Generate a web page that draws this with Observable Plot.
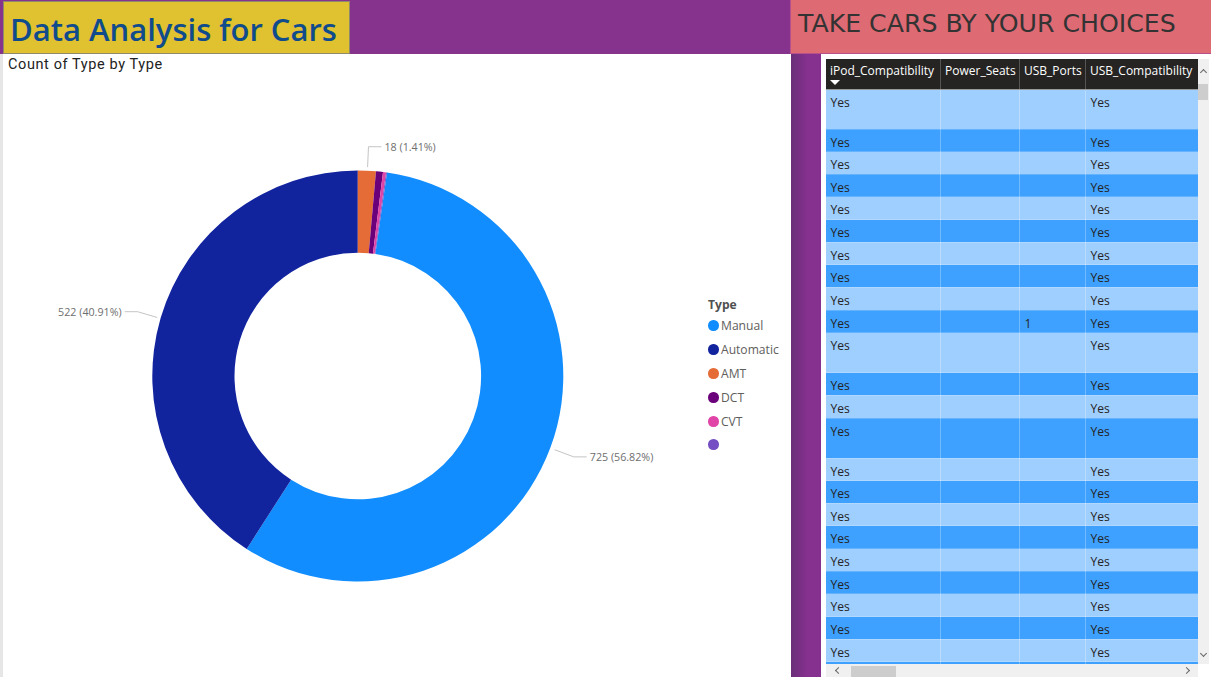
<!DOCTYPE html>
<html>
<head>
<meta charset="utf-8">
<script src="https://cdn.jsdelivr.net/npm/d3@7"></script>
<script src="https://cdn.jsdelivr.net/npm/@observablehq/plot@0.6"></script>
<style>
html,body{margin:0;padding:0;width:1211px;height:677px;overflow:hidden;background:#fff;font-family:"Open Sans",sans-serif}
.abs{position:absolute;box-sizing:border-box}
#stripe{left:0;top:0;width:3px;height:677px;background:#e6e6e6}
#topbar{left:0;top:0;width:791px;height:54px;background:#86338e}
#title{left:3px;top:1px;width:347px;height:53px;background:#e0c12f;border:1px solid #8f8a6a;color:#104c8c;font-weight:600;font-size:31px;line-height:54px;padding-left:6px;white-space:nowrap}
#right{left:790px;top:0;width:421px;height:54px;background:#de6a73;border-left:1px solid #b9508a;border-bottom:1px solid #b9508a;color:#333;font-family:"DejaVu Sans",sans-serif;font-size:25.2px;line-height:48px;padding-left:7px;white-space:nowrap}
#band{left:791px;top:54px;width:30px;height:623px;background:linear-gradient(90deg,#6a2f78,#86308f 55%)}
#chartTitle{left:8px;top:55px;font-family:Roboto,sans-serif;font-size:14.5px;letter-spacing:.6px;line-height:20px;color:#222}
#chart{left:0;top:54px}
#legend{left:708px;top:296px;width:82px;color:#605e5c;font-size:12.1px}
#legend b{display:block;height:18px;line-height:17px;color:#505050;font-weight:700}
#legend div{position:relative;height:24px;line-height:24px;padding-left:13px;white-space:nowrap}
#legend i{position:absolute;left:0;top:6px;width:10.5px;height:10.5px;border-radius:50%}
#tableWrap{left:826px;top:59px;width:372px;height:605px;overflow:hidden}
table{border-collapse:collapse;table-layout:fixed;width:372px;font-size:12.1px;color:#252423}
th{background:#252423;color:#fff;font-weight:400;font-size:12px;text-align:left;vertical-align:top;height:30px;padding:3px 0 0 4px;line-height:17px;border-right:1px solid #555;border-bottom:1px solid #999;box-sizing:border-box;white-space:nowrap;position:relative;overflow:hidden}
td{vertical-align:top;padding:5px 0 0 4.5px;line-height:16px;border-right:1px solid rgba(255,255,255,.28);border-bottom:1px solid rgba(255,255,255,.2);box-sizing:border-box}
#sort{position:absolute;left:4px;top:21px;width:0;height:0;border-left:5px solid transparent;border-right:5px solid transparent;border-top:5px solid #fff}
.sb{background:#f0f0f0}
.thumb{background:#cdcdcd}
.chev{width:5px;height:5px;border-left:1px solid #666;border-top:1px solid #666}
</style>
</head>
<body>
<div class="abs" id="stripe"></div>
<div class="abs" id="topbar"></div>
<div class="abs" id="title">Data Analysis for Cars</div>
<div class="abs" id="right">TAKE CARS BY YOUR CHOICES</div>
<div class="abs" id="band"></div>
<div class="abs" id="chartTitle">Count of Type by Type</div>
<div class="abs" id="chart"></div>
<div class="abs" id="legend"></div>
<div class="abs" id="tableWrap"></div>
<div class="abs sb" style="left:1198px;top:59px;width:11px;height:605px"></div>
<div class="abs thumb" style="left:1198px;top:84px;width:10px;height:16px"></div>
<div class="abs sb" style="left:826px;top:664px;width:372px;height:13px"></div>
<div class="abs thumb" style="left:851px;top:666px;width:45px;height:11px"></div>
<div class="abs chev" style="left:1201px;top:70px;transform:rotate(45deg)"></div>
<div class="abs chev" style="left:1201px;top:651px;transform:rotate(225deg)"></div>
<div class="abs chev" style="left:836px;top:668px;transform:rotate(-45deg)"></div>
<div class="abs chev" style="left:1184px;top:668px;transform:rotate(135deg)"></div>
<script>
// Donut data
const types = ["Manual", "Automatic", "AMT", "DCT", "CVT", ""];
const counts = [725, 522, 18, 7, 3, 1];
const colours = ["#118dff", "#12239e", "#e66c37", "#6b007b", "#e044a7", "#744ec2"];

// Table data
const tableHeaders = ["iPod_Compatibility", "Power_Seats", "USB_Ports", "USB_Compatibility"];
const iPodCompatibility = ["Yes","Yes","Yes","Yes","Yes","Yes","Yes","Yes","Yes","Yes","Yes","Yes","Yes","Yes","Yes","Yes","Yes","Yes","Yes","Yes","Yes","Yes","Yes",""];
const powerSeats = ["","","","","","","","","","","","","","","","","","","","","","","",""];
const usbPorts = ["","","","","","","","","","1","","","","","","","","","","","","","",""];
const usbCompatibility = ["Yes","Yes","Yes","Yes","Yes","Yes","Yes","Yes","Yes","Yes","Yes","Yes","Yes","Yes","Yes","Yes","Yes","Yes","Yes","Yes","Yes","Yes","Yes",""];
const tallRows = [0, 10, 13];
const columnWidths = [114.5, 79, 66, 112.5];

// Layout
const W = 790, H = 623, top0 = 54, cx = 357.8, cy = 376, R = 205.5, holeRatio = 0.6;

const total = d3.sum(counts);
const slices = types.map((type, i) => ({type, count: counts[i]}));
// Slices sit clockwise so the last one (Automatic) closes at twelve o'clock.
const leading = d3.sum(counts.slice(2));
const startAngle = 2 * Math.PI * leading / total;
const arcs = d3.pie().sort(null).value(d => d.count)
  .startAngle(startAngle).endAngle(startAngle + 2 * Math.PI)(slices);

const polar = (a, r) => [Math.sin(a) * r, Math.cos(a) * r];
const labelled = arcs.filter(a => a.data.count / total > 0.01).map(a => {
  const mid = (a.startAngle + a.endAngle) / 2;
  const side = Math.sin(mid) >= 0 ? 1 : -1;
  const [x1, y1] = polar(mid, 210 / R);
  const [x2, y2] = polar(mid, 230 / R);
  const x3 = x2 + side * 12.5 / R;
  return {
    type: a.data.type, side,
    text: `${a.data.count} (${(a.data.count / total * 100).toFixed(2)}%)`,
    line: [[x1, y1], [x2, y2], [x3, y2]],
    lx: x3 + side * 3.5 / R, ly: y2
  };
});
const leaderPoints = labelled.flatMap(l => l.line.map(([x, y]) => ({type: l.type, x, y})));

const donut = (index, {x, y, color}) => {
  const r = Math.abs(x(1) - x(0));
  const g = d3.create("svg:g").attr("transform", `translate(${x(0)},${y(0)})`);
  const arc = d3.arc().outerRadius(r).innerRadius(r * holeRatio);
  g.selectAll("path").data(arcs).join("path")
    .attr("d", arc)
    .attr("fill", d => color(d.data.type));
  return g.node();
};

const labelStyle = {
  fontFamily: '"Open Sans", sans-serif', fontSize: 10.7, fill: "#6e6e6e", dy: 0.5
};

const chart = Plot.plot({
  width: W, height: H,
  marginTop: 0, marginRight: 0, marginBottom: 0, marginLeft: 0,
  style: {background: "transparent", overflow: "visible"},
  x: {domain: [-1, 1], range: [cx - R, cx + R], axis: null},
  y: {domain: [-1, 1], range: [cy - top0 + R, cy - top0 - R], axis: null},
  color: {domain: types, range: colours},
  marks: [
    donut,
    Plot.line(leaderPoints, {x: "x", y: "y", z: "type", stroke: "#c4c4c4", strokeWidth: 1, curve: "linear"}),
    Plot.text(labelled.filter(d => d.side > 0), {x: "lx", y: "ly", text: "text", textAnchor: "start", ...labelStyle}),
    Plot.text(labelled.filter(d => d.side < 0), {x: "lx", y: "ly", text: "text", textAnchor: "end", ...labelStyle})
  ]
});
document.getElementById("chart").appendChild(chart);

// Legend
const legend = d3.select("#legend");
legend.append("b").text("Type");
types.forEach((t, i) => {
  const row = legend.append("div");
  row.append("i").style("background", colours[i]).style("top", t ? "6px" : "5px");
  row.append("span").text(t);
});

// Table
const table = d3.select("#tableWrap").append("table");
table.append("colgroup").selectAll("col").data(columnWidths).join("col").style("width", d => d + "px");
const headerRow = table.append("thead").append("tr");
tableHeaders.forEach((h, i) => {
  const th = headerRow.append("th").text(h);
  if (i === 0) th.append("span").attr("id", "sort");
});
const tbody = table.append("tbody");
iPodCompatibility.forEach((v, i) => {
  const tr = tbody.append("tr")
    .style("height", (tallRows.includes(i) ? 40 : 22.65) + "px")
    .style("background", i % 2 ? "#3ea1ff" : "#9fcfff");
  [v, powerSeats[i], usbPorts[i], usbCompatibility[i]].forEach(c => tr.append("td").text(c));
});
</script>
</body>
</html>
